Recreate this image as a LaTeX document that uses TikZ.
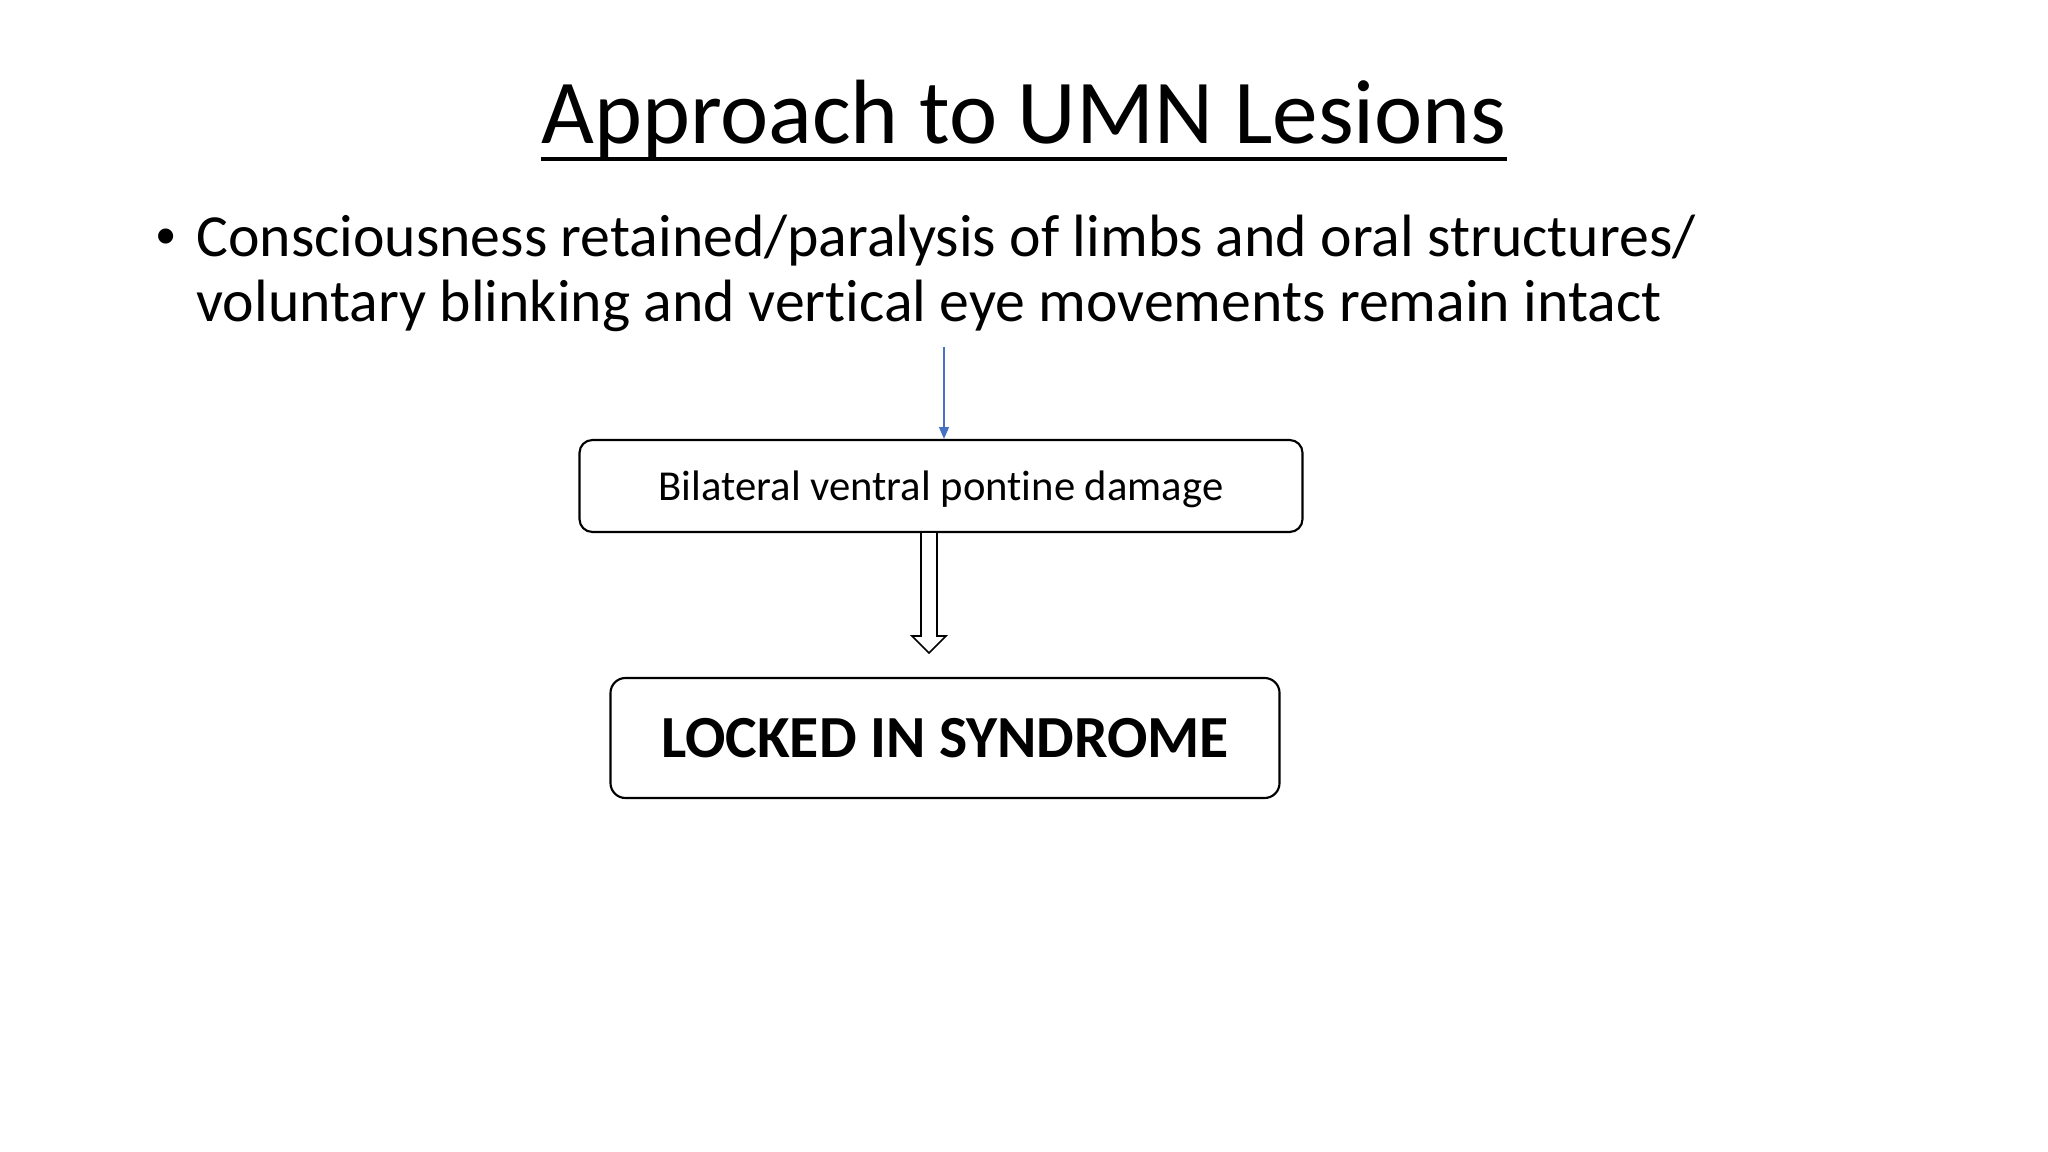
\documentclass[tikz,border=0pt]{standalone}
\usepackage{fontspec}
\setmainfont{Carlito}[Ligatures=NoCommon]
\usetikzlibrary{arrows.meta, calc}

\definecolor{officeblue}{HTML}{4472C4}

\begin{document}
\begin{tikzpicture}[x=0.46875pt, y=-0.46875pt, >={Triangle[length=5.6pt, width=4.6pt]},
        box/.style={draw, rounded corners=6pt, line width=1pt, inner sep=0pt, align=center},
        textline/.style={anchor=base west, inner sep=0pt, font=\fontsize{28}{30}\selectfont}]
        % 배경 (슬라이드 크기)
        \fill[white] (0, 0) rectangle (2048, 1152);

        % 제목
        \node[anchor=base, inner sep=0pt, font=\fontsize{42.8}{46}\selectfont] (title) at (1024, 144) {Approach to UMN Lesions};
        \draw[line width=1.6pt] ($(title.base west)+(0, 15)$) -- ($(title.base east)+(0, 15)$);

        % 글머리 항목
        \node[inner sep=0pt, font=\fontsize{20}{22}\selectfont] (bullet) at (166, 239) {•};
        \node[textline] (line1) at (196, 257) {Consciousness retained/paralysis of limbs and oral structures/};
        \node[textline] (line2) at (196, 322) {voluntary blinking and vertical eye movements remain intact};

        % 상자
        \node[box, text depth=0pt, minimum width=338.9pt, minimum height=43.1pt, font=\fontsize{20}{22}\selectfont] (bilat) at (941, 486) {Bilateral ventral pontine damage};
        \node[box, rounded corners=7pt, minimum width=313.6pt, minimum height=56.25pt, font=\fontsize{28}{32}\selectfont\bfseries] (locked) at (945, 738) {LOCKED IN SYNDROME};

        % 파란 화살표
        \coordinate (start) at (944, 347);
        \draw[->, officeblue, line width=0.8pt] (start) -- (start |- bilat.north);

        % 속이 빈 화살표
        \coordinate (tip) at (929, 653);
        \draw[line width=0.8pt, fill=white, line join=miter]
            ($(bilat.south -| tip)+(-8, 0)$) -- ($(tip)+(-8, -17)$) -- ($(tip)+(-17, -17)$) -- (tip)
            -- ($(tip)+(17, -17)$) -- ($(tip)+(8, -17)$) -- ($(bilat.south -| tip)+(8, 0)$);
    \end{tikzpicture}
\end{document}
